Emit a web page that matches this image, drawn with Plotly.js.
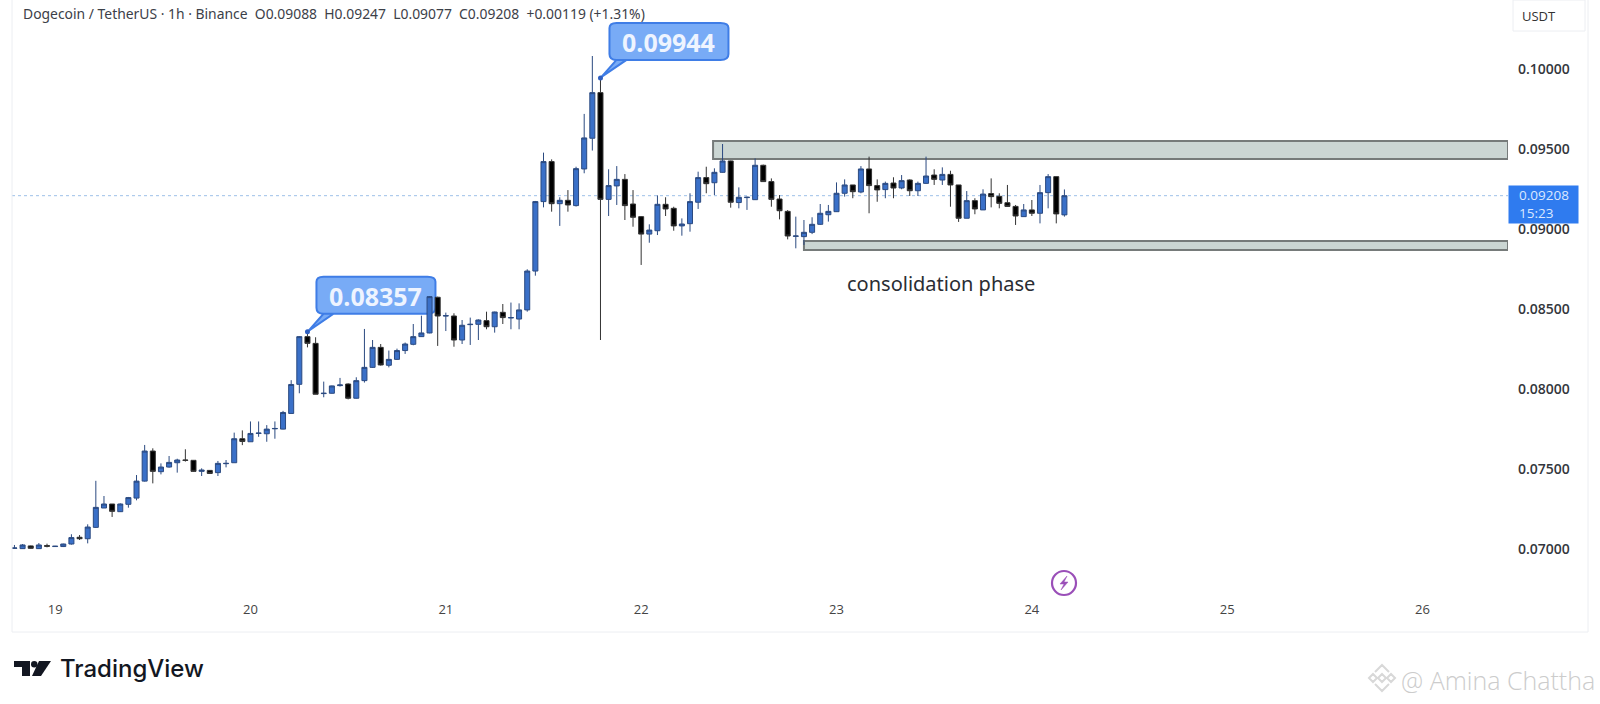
<!DOCTYPE html>
<html><head><meta charset="utf-8">
<script src="https://cdn.plot.ly/plotly-3.0.1.min.js"></script>
<style>html,body{margin:0;padding:0;background:#fff}</style></head>
<body><div id="chart" style="width:1600px;height:704px"></div>
<script>
const opens=[.07004,.07002,.07019,.07002,.07021,.07015,.07015,.07031,.07073,.07064,.07135,.07256,.07281,.07233,.07279,.07318,.07424,.07612,.07483,.07512,.07539,.07556,.07554,.07485,.07491,.07477,.07533,.07539,.07689,.07670,.07722,.07720,.07751,.07749,.07847,
.08029,.08327,.08285,.07971,.07973,.08021,.08031,.07942,.08052,.08135,.08260,.08148,.08185,.08240,.08279,.08327,.08350,.08573,.08456,.08456,.08306,.08402,.08404,.08427,.08389,.08479,.08444,.08437,.08494,
.08737,.09171,.09421,.09158,.09179,.09146,.09375,.09567,.09852,.09185,.09269,.09310,.09156,.09077,.08968,.08989,.09154,.09129,.09019,.09033,.09167,.09321,.09289,.09354,.09425,.09165,.09196,.09183,.09398,.09296,
.09187,.09110,.08954,.08952,.08979,.09029,.09089,.09108,.09223,.09275,.09231,.09375,.09271,.09246,.09287,.09256,.09306,.09239,.09285,.09337,.09306,.09341,.09275,.09067,.09177,.09119,.09221,.09204,.09164,.09141,.09077,.09119,.09098,.09227,.09327,.09088];
const highs=[.07025,.07031,.07021,.07037,.07033,.07019,.07033,.07092,.07087,.07154,.07426,.07331,.07281,.07285,.07325,.07462,.07650,.07629,.07535,.07581,.07564,.07623,.07556,.07504,.07493,.07550,.07556,.07727,.07741,.07797,.07797,.07774,.07797,.07863,.08055,
.08331,.08357,.08323,.08046,.08021,.08069,.08035,.08073,.08375,.08306,.08281,.08240,.08252,.08290,.08406,.08458,.08581,.08577,.08477,.08473,.08431,.08446,.08435,.08483,.08483,.08531,.08540,.08535,.08748,
.09175,.09477,.09435,.09198,.09243,.09389,.09719,.10081,.09944,.09373,.09393,.09343,.09243,.09081,.09029,.09210,.09198,.09139,.09066,.09223,.09358,.09389,.09379,.09531,.09427,.09260,.09202,.09441,.09402,.09316,
.09212,.09118,.09077,.09056,.09073,.09156,.09150,.09291,.09310,.09275,.09393,.09452,.09310,.09296,.09323,.09337,.09310,.09296,.09452,.09373,.09385,.09364,.09275,.09237,.09192,.09248,.09316,.09223,.09275,.09150,.09156,.09181,.09275,.09343,.09327,.09247];
const lows=[.07000,.07000,.07002,.07000,.07010,.07015,.07012,.07027,.07056,.07035,.07131,.07256,.07200,.07231,.07258,.07304,.07421,.07410,.07466,.07508,.07477,.07546,.07483,.07456,.07470,.07456,.07510,.07539,.07649,.07670,.07701,.07670,.07689,.07747,.07847,
.07973,.08260,.07967,.07948,.07971,.08015,.07935,.07940,.08040,.08131,.08146,.08135,.08181,.08219,.08273,.08325,.08348,.08269,.08362,.08264,.08281,.08275,.08306,.08373,.08352,.08406,.08373,.08373,.08483,
.08708,.09135,.09108,.09019,.09108,.09140,.09348,.09490,.08306,.09081,.09150,.09056,.09014,.08775,.08914,.08962,.09081,.08989,.08958,.08983,.09125,.09223,.09212,.09352,.09133,.09129,.09119,.09181,.09296,.09139,
.09060,.08935,.08879,.08900,.08968,.09025,.09046,.09106,.09202,.09192,.09223,.09098,.09170,.09192,.09192,.09248,.09206,.09206,.09281,.09275,.09275,.09139,.09044,.09067,.09092,.09119,.09135,.09129,.09139,.09025,.09077,.09081,.09035,.09129,.09035,.09077];
const closes=[.07006,.07025,.07004,.07025,.07017,.07017,.07031,.07071,.07064,.07137,.07260,.07281,.07235,.07281,.07321,.07424,.07612,.07485,.07512,.07541,.07556,.07554,.07485,.07493,.07472,.07535,.07535,.07689,.07672,.07722,.07724,.07749,.07753,.07853,.08028,
.08327,.08285,.07967,.07973,.08019,.08025,.07942,.08052,.08135,.08260,.08150,.08185,.08240,.08281,.08327,.08350,.08577,.08456,.08458,.08306,.08398,.08404,.08431,.08389,.08481,.08446,.08446,.08494,.08737,
.09171,.09421,.09158,.09179,.09150,.09377,.09569,.09852,.09185,.09271,.09310,.09146,.09073,.08968,.08993,.09154,.09125,.09019,.09031,.09171,.09321,.09283,.09354,.09425,.09167,.09198,.09198,.09398,.09296,.09185,
.09114,.08956,.08956,.08979,.09029,.09098,.09110,.09223,.09275,.09233,.09375,.09271,.09244,.09285,.09256,.09302,.09239,.09285,.09331,.09310,.09341,.09275,.09067,.09177,.09125,.09218,.09202,.09160,.09141,.09081,.09119,.09098,.09227,.09327,.09094,.09208];
const priceTicks=[0.07,0.075,0.08,0.085,0.09,0.095,0.10];
const priceLabels=["0.07000","0.07500","0.08000","0.08500","0.09000","0.09500","0.10000"];
const dayTicks=["2024-02-19","2024-02-20","2024-02-21","2024-02-22","2024-02-23","2024-02-24","2024-02-25","2024-02-26"];
const dayLabels=["19","20","21","22","23","24","25","26"];
const lastPrice=0.09208, peakLow=0.08357, peakHigh=0.09944;
const zoneUpper=[0.09437,0.09550], zoneLower=[0.08868,0.08924];

const pad=n=>String(n).padStart(2,'0');
function hourStamp(i){const d=new Date(Date.UTC(2024,1,18,19)+i*3600000);
  return `${d.getUTCFullYear()}-${pad(d.getUTCMonth()+1)}-${pad(d.getUTCDate())} ${pad(d.getUTCHours())}:00`;}
const times=opens.map((_,i)=>hourStamp(i));
const L=12,R=1508,B=600;
const xp=x=>(x-L)/(R-L), yp=y=>(B-y)/B;

const CALLOUT="M 16 18 L 120 18 Q 128 18 128 24 L 128 50 Q 128 55 120 55 L 16 55 Q 9 55 9 50 L 9 24 Q 9 18 16 18 L 14 18 L 26 18 L 1 1 Z";
function callout(time,price){return {type:'path',layer:'below',xref:'x',yref:'y',xsizemode:'pixel',ysizemode:'pixel',
  xanchor:time,yanchor:price,path:CALLOUT,fillcolor:'#78abf6',line:{color:'#3f7de6',width:2}};}
function dot(time,price){return {type:'circle',layer:'above',xref:'x',yref:'y',xsizemode:'pixel',ysizemode:'pixel',
  xanchor:time,yanchor:price,x0:-2.5,x1:2.5,y0:-2.5,y1:2.5,fillcolor:'#2f5fc0',line:{width:0}};}
function calloutText(time,price,txt){return {x:time,y:price,xref:'x',yref:'y',xshift:68,yshift:36,showarrow:false,text:txt,
  font:{family:'Open Sans',size:25,color:'#eef4ff',weight:700}};}
function glyph(x,y,path,fill,line,w){return {type:'path',xref:'paper',yref:'paper',xsizemode:'pixel',ysizemode:'pixel',
  xanchor:xp(x),yanchor:yp(y),path:path,fillcolor:fill,line:{color:line,width:w}};}
function label(x,y,txt,font,anchor){return {x:xp(x),y:yp(y),xref:'paper',yref:'paper',xanchor:anchor||'left',yanchor:'middle',showarrow:false,text:txt,font:font,align:'left'};}
function frame(x0,y0,x1,y1,c){return {type:'line',xref:'paper',yref:'paper',x0:xp(x0),x1:xp(x1),y0:yp(y0),y1:yp(y1),line:{color:c||'#eceef2',width:1}};}

const end='2024-02-26 10:30';
const shapes=[
 frame(12,0,12,632),frame(12,632,1588,632),frame(1588,0,1588,632),
 {type:'line',layer:'below',xref:'x',yref:'y',x0:'2024-02-18 18:42',x1:end,y0:lastPrice,y1:lastPrice,line:{color:'#9dc0e8',width:1,dash:'dot'}},
 {type:'rect',layer:'below',xref:'x',yref:'y',x0:'2024-02-22 08:50',x1:end,y0:zoneUpper[0],y1:zoneUpper[1],fillcolor:'#cbd6d3',line:{color:'#767b7a',width:2}},
 {type:'rect',layer:'below',xref:'x',yref:'y',x0:'2024-02-22 20:00',x1:end,y0:zoneLower[0],y1:zoneLower[1],fillcolor:'#cbd6d3',line:{color:'#767b7a',width:2}},
 callout(times[36],peakLow),callout(times[72],peakHigh),dot(times[36],peakLow),dot(times[72],peakHigh),
 {type:'rect',xref:'paper',yref:'paper',x0:xp(1513),x1:xp(1585),y0:yp(0),y1:yp(31),line:{color:'#eceef2',width:1},fillcolor:'rgba(0,0,0,0)'},
 // lightning badge
 {type:'circle',xref:'paper',yref:'paper',x0:xp(1052),x1:xp(1076),y0:yp(571),y1:yp(595),line:{color:'#9a4fb8',width:2.2},fillcolor:'#fff'},
 glyph(1064,583,"M 3 7 L -4 -1 L 0 -1 L -3 -7 L 4 1 L 0 1 Z",'#9a4fb8','#9a4fb8',0.5),
 // TradingView mark
 glyph(14,661,"M 0 0 L 16 0 L 16 -15 L 8 -15 L 8 -6 L 0 -6 Z",'#131722','#131722',0),
 {type:'circle',xref:'paper',yref:'paper',x0:xp(31),x1:xp(37.5),y0:yp(661),y1:yp(667.5),fillcolor:'#131722',line:{width:0}},
 glyph(31,661,"M 8 0 L 20 0 L 10 -15 L 1 -15 Z",'#131722','#131722',0),
 // watermark mark
 glyph(1382,678,"M -7 6 L 0 13 L 7 6 M -7 -6 L 0 -13 L 7 -6 M -13 0 L -9 4 L -5 0 L -9 -4 Z M 13 0 L 9 4 L 5 0 L 9 -4 Z M 0 4 L 4 0 L 0 -4 L -4 0 Z",'rgba(0,0,0,0)','#d8d8d8',2)
];

const annotations=[
 calloutText(times[36],peakLow,'0.08357'),calloutText(times[72],peakHigh,'0.09944'),
 label(21,14,'Dogecoin / TetherUS · 1h · Binance&nbsp;&nbsp;O0.09088&nbsp;&nbsp;H0.09247&nbsp;&nbsp;L0.09077&nbsp;&nbsp;C0.09208&nbsp;&nbsp;+0.00119 (+1.31%)',{family:'Noto Sans',size:13.9,color:'#3c4048'}),
 label(1520,16,'USDT',{family:'Open Sans',size:13,color:'#333'}),
 {x:'2024-02-23 12:50',y:0.0866,xref:'x',yref:'y',showarrow:false,text:'consolidation phase',font:{family:'Noto Sans',size:20,color:'#2a2d33'}},
 {x:1,y:lastPrice,xref:'paper',yref:'y',xanchor:'left',yanchor:'middle',yshift:-8.5,showarrow:false,width:69,height:37,bgcolor:'#2f7bef',text:' ',borderpad:0,font:{size:13}},
 {x:1,y:lastPrice,xref:'paper',yref:'y',xanchor:'left',yanchor:'middle',xshift:9,yshift:-8.5,showarrow:false,
  text:'0.09208<br>15:23',align:'left',font:{family:'Open Sans',size:13.5,color:'#dbe8ff',weight:500}},
 label(58,668,'TradingView',{family:'Inter',size:24,color:'#131722',weight:500}),
 label(1399,680,'@ Amina Chattha',{family:'Open Sans',size:25,color:'#cccccc',weight:300})
];

Plotly.newPlot('chart',[{type:'candlestick',x:times,open:opens,high:highs,low:lows,close:closes,
  whiskerwidth:0,showlegend:false,hoverinfo:'skip',
  increasing:{line:{color:'#2b4a80',width:1},fillcolor:'#3a70c8'},
  decreasing:{line:{color:'#333333',width:1},fillcolor:'#000000'}}],
 {width:1600,height:704,autosize:false,boxgap:0.12,margin:{l:L,r:1600-R,t:0,b:704-B,pad:0},paper_bgcolor:'#fff',plot_bgcolor:'#fff',showlegend:false,
  xaxis:{type:'date',range:['2024-02-18 18:42',end],tickvals:dayTicks,ticktext:dayLabels,showgrid:false,zeroline:false,showline:false,ticks:'',
    tickfont:{family:'Open Sans',size:13,color:'#444'},rangeslider:{visible:false},fixedrange:true},
  yaxis:{side:'right',range:[0.06681,0.10431],tickvals:priceTicks,ticktext:priceLabels,showgrid:false,zeroline:false,showline:false,ticks:'',
    tickfont:{family:'Open Sans',size:14,color:'#33363c',weight:600},ticklabelstandoff:9,fixedrange:true},
  shapes:shapes,annotations:annotations},
 {displayModeBar:false,staticPlot:true});
</script></body></html>
